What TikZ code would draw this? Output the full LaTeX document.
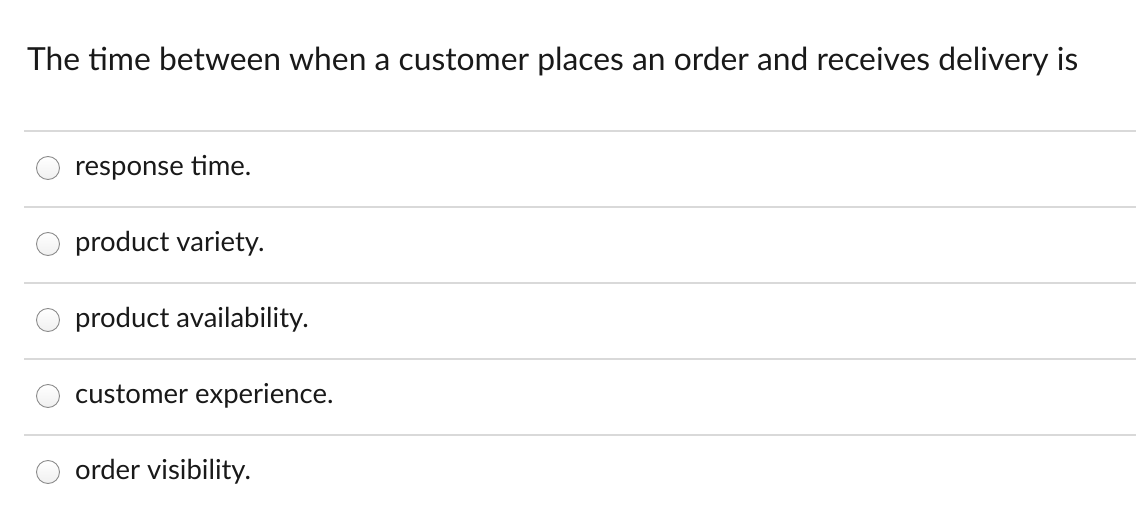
\documentclass[tikz,border=0pt]{standalone}
\usepackage{fontspec}
\setmainfont{Lato}
\begin{document}
\begin{tikzpicture}[x=1pt,y=-1pt,
  sep/.style={draw=black!15,line width=1.2pt},
  radio/.style={circle,draw=black!45,line width=0.9pt,minimum size=23pt,inner sep=0pt,
    top color=white,bottom color=black!6},
  opt/.style={anchor=west,font=\fontsize{27.5}{31}\selectfont,text=black!90,inner sep=0pt}]
\useasboundingbox (0,0) rectangle (1148,516);
\node[anchor=base west,inner sep=0pt,font=\fontsize{31.8}{36}\selectfont,text=black!90] (q) at (27,71)
  {The time between when a customer places an order and receives delivery is};
\foreach \y/\t [count=\i] in {168/response time.,244/product variety.,320/product availability.,396/customer experience.,472/order visibility.}{
  \coordinate (l\i) at (24,\y-37);
  \coordinate (r\i) at (1136,\y-37);
  \draw[sep] (l\i) -- (r\i);
  \node[radio] (c\i) at (48,\y) {};
  \node[opt] (t\i) at (75,\y) {\t};
}
\end{tikzpicture}
\end{document}
